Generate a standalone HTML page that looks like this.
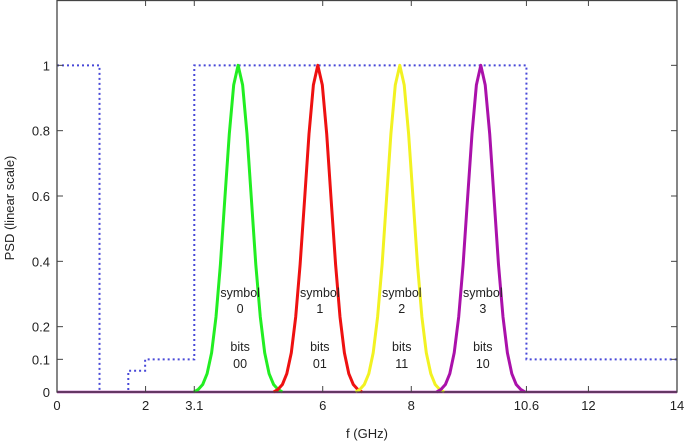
<!DOCTYPE html>
<html><head><meta charset="utf-8"><style>
body{margin:0;background:#fff}
svg{display:block;font-family:"Liberation Sans",sans-serif}
</style></head><body>
<svg id="c" width="685" height="441" viewBox="0 0 685 441"></svg>
<script>
const xTicks=[0,2,3.1,6,8,10.6,12,14];
const xTickLabels=["0","2","3.1","6","8","10.6","12","14"];
const yTicks=[0,0.1,0.2,0.4,0.6,0.8,1];
const yTickLabels=["0","0.1","0.2","0.4","0.6","0.8","1"];
const maskF=[0,0.96,0.96,1.61,1.61,1.99,1.99,3.1,3.1,10.6,10.6,14];
const maskV=[1,1,0,0,0.065,0.065,0.1,0.1,1,1,0.1,0.1];
const pulseCenters=[4.09,5.89,7.74,9.57];
const pulseColors=["#22ee22","#ee1111","#f2f222","#aa11aa"];
const pulseOffsets=[-1,-0.9,-0.8,-0.7,-0.6,-0.5,-0.4,-0.3,-0.2,-0.1,0,0.1,0.2,0.3,0.4,0.5,0.6,0.7,0.8,0.9,1];
const pulseShape=[0,0.008,0.023,0.056,0.12,0.23,0.39,0.59,0.79,0.94,1,0.94,0.79,0.59,0.39,0.23,0.12,0.056,0.023,0.008,0];
const symbolLabels=["0","1","2","3"];
const bitLabels=["00","01","11","10"];
const L=57,R=677,T=0,B=392,ymax=1.2;
const X=f=>L+(f/14)*(R-L), Y=v=>B-(v/ymax)*(B-T);
const svg=document.getElementById('c'),NS="http://www.w3.org/2000/svg";
function mk(t,a,p){const e=document.createElementNS(NS,t);for(const k in a)e.setAttribute(k,a[k]);(p||svg).appendChild(e);return e;}
let d=maskF.map((f,i)=>(i?'L':'M')+X(f)+','+Y(maskV[i])).join('');
let m=mk('path',{d:d,fill:'none',stroke:'#4848d8','stroke-width':2,'stroke-dasharray':'2 3'});


let bl=mk('line',{x1:L,x2:R,y1:B,y2:B,stroke:'#a020a0','stroke-width':2.5});


pulseCenters.forEach((c,j)=>{
  let pd=pulseOffsets.map((o,i)=>(i?'L':'M')+X(c+o).toFixed(1)+','+Y(pulseShape[i]).toFixed(1)).join('');
  let p=mk('path',{d:pd,fill:'none',stroke:pulseColors[j],'stroke-width':3,'stroke-linejoin':'round'});
  
  
  const cx=X(c)+2;
  [["symbol",293],[symbolLabels[j],309],["bits",347],[bitLabels[j],364]].forEach(([s,y])=>{
    let t=mk('text',{x:cx,y:y+4,'text-anchor':'middle','font-size':12.5,fill:'#222'});t.textContent=s;
    
    
  });
});
let fr=mk('rect',{x:L,y:T+0.5,width:R-L,height:B-T-0.5,fill:'none',stroke:'#444','stroke-width':1.3});


xTicks.forEach((f,i)=>{
  mk('line',{x1:X(f),x2:X(f),y1:B,y2:B-6,stroke:'#444'});
  mk('line',{x1:X(f),x2:X(f),y1:T,y2:T+6,stroke:'#444'});
  let t=mk('text',{x:X(f),y:410,'text-anchor':'middle','font-size':13,fill:'#222'});t.textContent=xTickLabels[i];
  
  
});
yTicks.forEach((v,i)=>{
  mk('line',{x1:L,x2:L+6,y1:Y(v),y2:Y(v),stroke:'#444'});
  mk('line',{x1:R,x2:R-6,y1:Y(v),y2:Y(v),stroke:'#444'});
  let t=mk('text',{x:50,y:Y(v)+5,'text-anchor':'end','font-size':13,fill:'#222'});t.textContent=yTickLabels[i];
  
  
});
let xl=mk('text',{x:367,y:438,'text-anchor':'middle','font-size':13,fill:'#222'});xl.textContent='f (GHz)';


let yl=mk('text',{x:0,y:0,transform:'translate(14,208) rotate(-90)','text-anchor':'middle','font-size':13,fill:'#222'});yl.textContent='PSD (linear scale)';


</script>
</body></html>
